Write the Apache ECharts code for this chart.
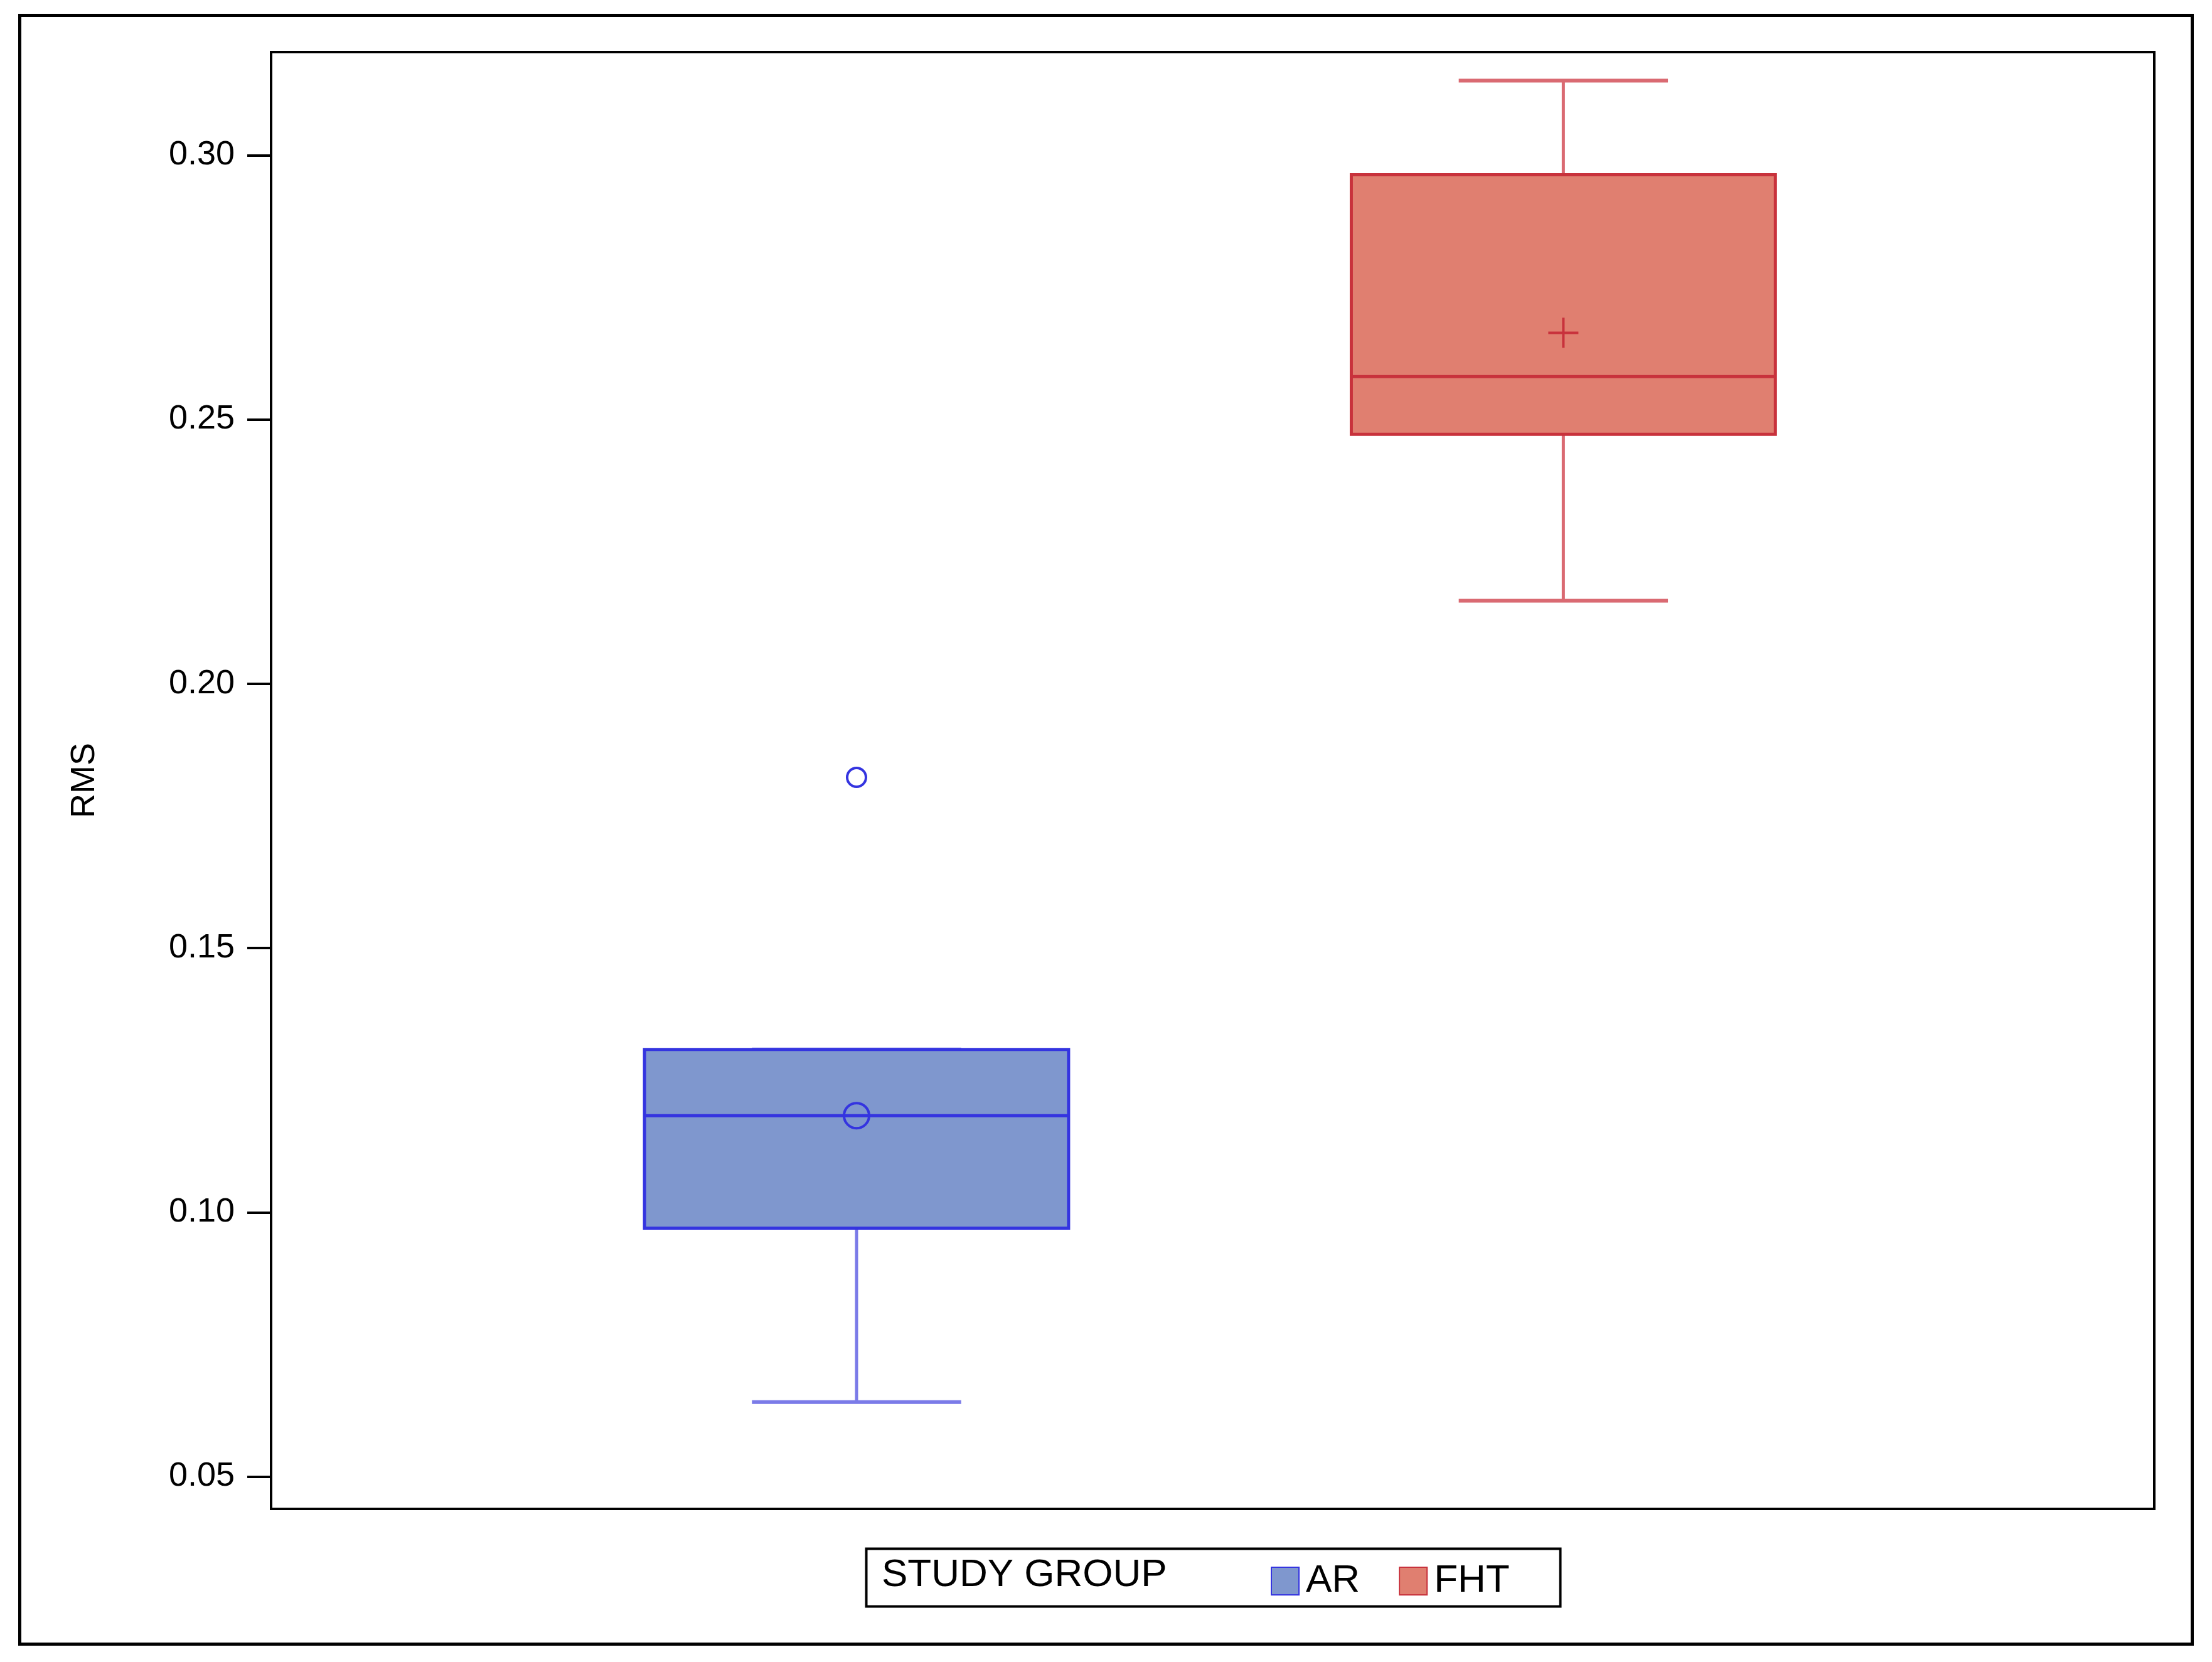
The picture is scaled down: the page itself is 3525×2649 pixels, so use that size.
<!DOCTYPE html>
<html>
<head>
<meta charset="utf-8">
<script src="https://cdn.jsdelivr.net/npm/echarts@6/dist/echarts.min.js"></script>
<style>
  html, body { margin: 0; padding: 0; background: #fff; }
  #chart { width: 3525px; height: 2649px; }
</style>
</head>
<body>
<div id="chart"></div>
<script>
// groups and box statistics
var groups = ['AR', 'FHT'];
// [whiskerLow, Q1, median, Q3, whiskerHigh]
var boxStats = [
  [0.0641, 0.0970, 0.1183, 0.1308, 0.1308],
  [0.2157, 0.2472, 0.2581, 0.2963, 0.3141]
];
var means = [0.1183, 0.2664];
var outliers = [[0.1823], []];
var yTicks = [0.05, 0.10, 0.15, 0.20, 0.25, 0.30];

var fills = ['#7f97ce', '#e07f70'];
var strokes = ['#3434e0', '#c8323c'];
var whiskerColors = ['#7b7be8', '#da6a72'];
var meanSymbols = ['circle', 'plus'];

function boxRender(gi) {
  return function (params, api) {
    var x = gi + 1;
    var s = boxStats[gi];
    var hw = 0.3, cw = 0.148;
    var p = function (xx, yy) { return api.coord([xx, yy]); };
    var lw = p(x - hw, s[3]), rb = p(x + hw, s[1]);
    var ch = [];
    // whiskers
    ch.push({ type: 'line', shape: { x1: p(x, s[0])[0], y1: p(x, s[0])[1], x2: p(x, s[1])[0], y2: p(x, s[1])[1] }, style: { stroke: whiskerColors[gi], lineWidth: 5 } });
    ch.push({ type: 'line', shape: { x1: p(x, s[3])[0], y1: p(x, s[3])[1], x2: p(x, s[4])[0], y2: p(x, s[4])[1] }, style: { stroke: whiskerColors[gi], lineWidth: 5 } });
    ch.push({ type: 'line', shape: { x1: p(x - cw, s[0])[0], y1: p(x, s[0])[1], x2: p(x + cw, s[0])[0], y2: p(x, s[0])[1] }, style: { stroke: whiskerColors[gi], lineWidth: 6 } });
    ch.push({ type: 'line', shape: { x1: p(x - cw, s[4])[0], y1: p(x, s[4])[1], x2: p(x + cw, s[4])[0], y2: p(x, s[4])[1] }, style: { stroke: whiskerColors[gi], lineWidth: 6 } });
    // box
    ch.push({ type: 'rect', shape: { x: lw[0], y: lw[1], width: rb[0] - lw[0], height: rb[1] - lw[1] }, style: { fill: fills[gi], stroke: strokes[gi], lineWidth: 5 } });
    // median
    ch.push({ type: 'line', shape: { x1: lw[0], y1: p(x, s[2])[1], x2: rb[0], y2: p(x, s[2])[1] }, style: { stroke: strokes[gi], lineWidth: 5 } });
    // mean
    var m = p(x, means[gi]);
    if (meanSymbols[gi] === 'circle') {
      ch.push({ type: 'circle', shape: { cx: m[0], cy: m[1], r: 20 }, style: { fill: 'none', stroke: strokes[gi], lineWidth: 4 } });
    } else {
      ch.push({ type: 'line', shape: { x1: m[0] - 24, y1: m[1], x2: m[0] + 24, y2: m[1] }, style: { stroke: strokes[gi], lineWidth: 4 } });
      ch.push({ type: 'line', shape: { x1: m[0], y1: m[1] - 24, x2: m[0], y2: m[1] + 24 }, style: { stroke: strokes[gi], lineWidth: 4 } });
    }
    // outliers
    outliers[gi].forEach(function (v) {
      var o = p(x, v);
      ch.push({ type: 'circle', shape: { cx: o[0], cy: o[1], r: 15 }, style: { fill: 'none', stroke: strokes[gi], lineWidth: 4 } });
    });
    return { type: 'group', children: ch };
  };
}

var series = groups.map(function (g, gi) {
  return {
    type: 'custom',
    name: g,
    renderItem: boxRender(gi),
    itemStyle: { color: fills[gi], borderColor: strokes[gi], borderWidth: 4 },
    data: [[gi + 1, boxStats[gi][2]]],
    animation: false
  };
});

var chart = echarts.init(document.getElementById('chart'));
chart.setOption({
  backgroundColor: '#fff',
  animation: false,
  grid: { left: 432, right: 92, top: 83, bottom: 244, show: true, borderColor: '#000', borderWidth: 4, backgroundColor: 'transparent' },
  xAxis: {
    type: 'value', min: 0.1717, max: 2.836,
    axisLine: { show: false }, axisTick: { show: false }, axisLabel: { show: false }, splitLine: { show: false }
  },
  yAxis: {
    type: 'value', min: 0.0439, max: 0.3195,
    name: 'RMS', nameLocation: 'middle', nameGap: 270, nameRotate: 90,
    nameTextStyle: { fontFamily: 'Liberation Sans', fontSize: 54, color: '#000' },
    axisLine: { show: false },
    axisTick: { show: true, length: 38, lineStyle: { color: '#000', width: 4 }, customValues: yTicks },
    axisLabel: { fontFamily: 'Liberation Sans', fontSize: 54, color: '#000', margin: 58, customValues: yTicks,
      formatter: function (v) { return v.toFixed(2); } },
    splitLine: { show: false }
  },
  legend: {
    data: groups, left: 2020, top: 2484, itemWidth: 44, itemHeight: 44, itemGap: 62,
    icon: 'rect',
    textStyle: { fontFamily: 'Liberation Sans', fontSize: 62, color: '#000', padding: [0, 0, 0, 6] }
  },
  graphic: [
    { type: 'rect', left: 29, top: 22, shape: { width: 3462, height: 2596 }, style: { fill: 'none', stroke: '#000', lineWidth: 5 } },
    { type: 'rect', left: 1378, top: 2466, shape: { width: 1106, height: 92 }, style: { fill: 'none', stroke: '#000', lineWidth: 4 } },
    { type: 'text', left: 1405, top: 2480, style: { text: 'STUDY GROUP', font: '62px "Liberation Sans"', fill: '#000' } }
  ],
  series: series
});
</script>
</body>
</html>
